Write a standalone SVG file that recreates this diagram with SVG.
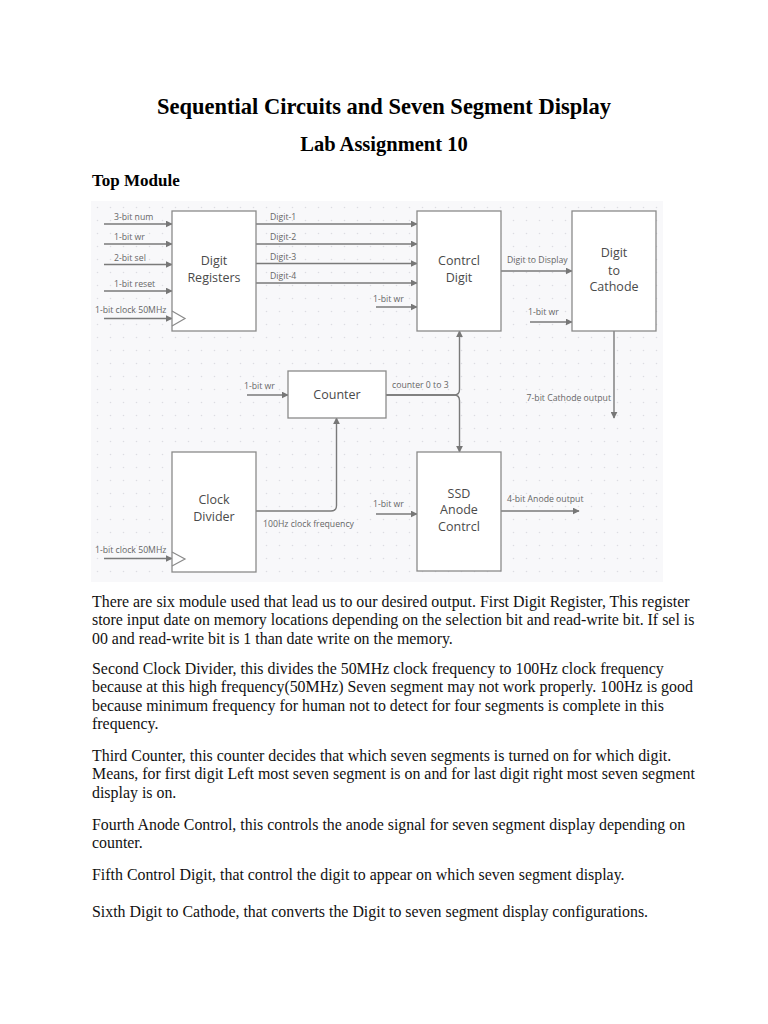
<svg xmlns="http://www.w3.org/2000/svg" width="768" height="1024" viewBox="0 0 768 1024">
<defs>
<pattern id="dots" x="91" y="201" width="13" height="13" patternUnits="userSpaceOnUse">
<circle cx="6.5" cy="6.5" r="0.8" fill="#dcdce2"/>
</pattern>
<marker id="arr" viewBox="0 0 10 10" refX="9" refY="5" markerWidth="7" markerHeight="7" markerUnits="userSpaceOnUse" orient="auto">
<path d="M0,0 L10,5 L0,10 z" fill="#777"/>
</marker>
<style>
.title{font-family:"Liberation Serif","Times New Roman",serif;font-weight:bold;fill:#000}
.para{font-family:"Liberation Serif","Times New Roman",serif;font-size:15.9px;fill:#111}
.box{fill:#fff;stroke:#8a8a8a;stroke-width:1.3}
.bt{font-family:"Open Sans","Noto Sans",sans-serif;font-size:12.5px;fill:#4a4a4a;text-anchor:middle}
.lb{font-family:"Open Sans","Noto Sans",sans-serif;font-size:8.7px;fill:#666}
.ln{fill:none;stroke:#7a7a7a;stroke-width:1.4}
.clk{fill:none;stroke:#8a8a8a;stroke-width:1.2}
</style>
</defs>
<rect width="768" height="1024" fill="#fff"/>
<text class="title" x="384" y="114" font-size="22.5" text-anchor="middle">Sequential Circuits and Seven Segment Display</text>
<text class="title" x="384" y="151" font-size="20.5" text-anchor="middle">Lab Assignment 10</text>
<text class="title" x="92" y="185.5" font-size="17">Top Module</text>
<g id="diagram-bg">
<rect x="91" y="201" width="572" height="381" fill="#f8f8fa"/>
<rect x="91" y="201" width="572" height="381" fill="url(#dots)"/>
</g>
<g id="connectors">
<line class="ln" x1="104" y1="224" x2="172" y2="224" marker-end="url(#arr)"/>
<line class="ln" x1="104" y1="244" x2="172" y2="244" marker-end="url(#arr)"/>
<line class="ln" x1="104" y1="264.5" x2="172" y2="264.5" marker-end="url(#arr)"/>
<line class="ln" x1="104" y1="291" x2="172" y2="291" marker-end="url(#arr)"/>
<line class="ln" x1="104" y1="318.5" x2="172" y2="318.5" marker-end="url(#arr)"/>
<line class="ln" x1="256" y1="224" x2="417" y2="224" marker-end="url(#arr)"/>
<line class="ln" x1="256" y1="244" x2="417" y2="244" marker-end="url(#arr)"/>
<line class="ln" x1="256" y1="263.5" x2="417" y2="263.5" marker-end="url(#arr)"/>
<line class="ln" x1="256" y1="283" x2="417" y2="283" marker-end="url(#arr)"/>
<line class="ln" x1="376" y1="307" x2="417" y2="307" marker-end="url(#arr)"/>
<line class="ln" x1="501" y1="271" x2="572" y2="271" marker-end="url(#arr)"/>
<line class="ln" x1="530" y1="322" x2="572" y2="322" marker-end="url(#arr)"/>
<line class="ln" x1="614" y1="331" x2="614" y2="418" marker-end="url(#arr)"/>
<line class="ln" x1="247" y1="395" x2="288" y2="395" marker-end="url(#arr)"/>
<path class="ln" d="M386,395 H454 Q459.5,395 459.5,389.5 V331" marker-end="url(#arr)"/>
<path class="ln" d="M386,395 H454 Q459.5,395 459.5,400.5 V452" marker-end="url(#arr)"/>
<path class="ln" d="M256,511 H331 Q336.5,511 336.5,505.5 V418" marker-end="url(#arr)"/>
<line class="ln" x1="104" y1="558.5" x2="172" y2="558.5" marker-end="url(#arr)"/>
<line class="ln" x1="376" y1="514" x2="417" y2="514" marker-end="url(#arr)"/>
<line class="ln" x1="501" y1="511" x2="579" y2="511" marker-end="url(#arr)"/>
</g>
<g id="connector-labels">
<text class="lb" x="114" y="220">3-bit num</text>
<text class="lb" x="114" y="240">1-bit wr</text>
<text class="lb" x="114" y="260.5">2-bit sel</text>
<text class="lb" x="114" y="287">1-bit reset</text>
<text class="lb" x="95" y="313">1-bit clock 50MHz</text>
<text class="lb" x="270" y="220">Digit-1</text>
<text class="lb" x="270" y="240">Digit-2</text>
<text class="lb" x="270" y="259.5">Digit-3</text>
<text class="lb" x="270" y="279">Digit-4</text>
<text class="lb" x="373" y="302">1-bit wr</text>
<text class="lb" x="507" y="263">Digit to Display</text>
<text class="lb" x="528" y="315">1-bit wr</text>
<text class="lb" x="611" y="401" text-anchor="end">7-bit Cathode output</text>
<text class="lb" x="244" y="389">1-bit wr</text>
<text class="lb" x="392" y="388">counter 0 to 3</text>
<text class="lb" x="263" y="527">100Hz clock frequency</text>
<text class="lb" x="95" y="553">1-bit clock 50MHz</text>
<text class="lb" x="373" y="507">1-bit wr</text>
<text class="lb" x="507" y="502">4-bit Anode output</text>
</g>
<g id="digit-registers">
<rect class="box" x="172" y="211" width="84" height="120"/>
<path class="clk" d="M172,311 L185,318.5 L172,326"/>
<text class="bt" x="214" y="265">Digit</text>
<text class="bt" x="214" y="282">Registers</text>
</g>
<g id="control-digit">
<rect class="box" x="417" y="211" width="84" height="120"/>
<text class="bt" x="459" y="264.5">Contrcl</text>
<text class="bt" x="459" y="281.5">Digit</text>
</g>
<g id="digit-to-cathode">
<rect class="box" x="572" y="211" width="84" height="120"/>
<text class="bt" x="614" y="257">Digit</text>
<text class="bt" x="614" y="274.5">to</text>
<text class="bt" x="614" y="291">Cathode</text>
</g>
<g id="counter">
<rect class="box" x="288" y="371" width="98" height="47"/>
<text class="bt" x="337" y="398.5">Counter</text>
</g>
<g id="clock-divider">
<rect class="box" x="172" y="452" width="84" height="120"/>
<path class="clk" d="M172,552 L185,559 L172,566"/>
<text class="bt" x="214" y="504">Clock</text>
<text class="bt" x="214" y="521">Divider</text>
</g>
<g id="ssd-anode-control">
<rect class="box" x="417" y="452" width="84" height="119"/>
<text class="bt" x="459" y="497.5">SSD</text>
<text class="bt" x="459" y="514">Anode</text>
<text class="bt" x="459" y="531">Contrcl</text>
</g>
<g id="body-text">
<text class="para" x="92" y="607">There are six module used that lead us to our desired output. First Digit Register, This register</text>
<text class="para" x="92" y="625.4">store input date on memory locations depending on the selection bit and read-write bit. If sel is</text>
<text class="para" x="92" y="643.8">00 and read-write bit is 1 than date write on the memory.</text>
<text class="para" x="92" y="674">Second Clock Divider, this divides the 50MHz clock frequency to 100Hz clock frequency</text>
<text class="para" x="92" y="692.4">because at this high frequency(50MHz) Seven segment may not work properly. 100Hz is good</text>
<text class="para" x="92" y="710.8">because minimum frequency for human not to detect for four segments is complete in this</text>
<text class="para" x="92" y="729.2">frequency.</text>
<text class="para" x="92" y="761">Third Counter, this counter decides that which seven segments is turned on for which digit.</text>
<text class="para" x="92" y="779.4">Means, for first digit Left most seven segment is on and for last digit right most seven segment</text>
<text class="para" x="92" y="797.8">display is on.</text>
<text class="para" x="92" y="830">Fourth Anode Control, this controls the anode signal for seven segment display depending on</text>
<text class="para" x="92" y="848.4">counter.</text>
<text class="para" x="92" y="880">Fifth Control Digit, that control the digit to appear on which seven segment display.</text>
<text class="para" x="92" y="917">Sixth Digit to Cathode, that converts the Digit to seven segment display configurations.</text>
</g>
</svg>
